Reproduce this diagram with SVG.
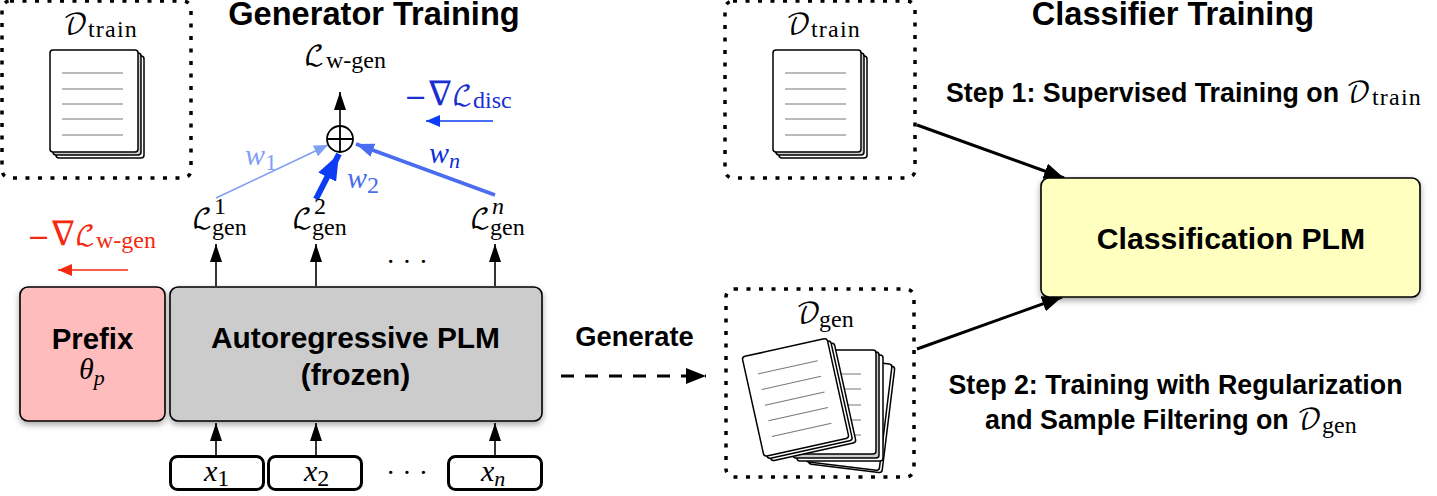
<svg xmlns="http://www.w3.org/2000/svg" width="1437" height="496" viewBox="0 0 1437 496">
<style>
.t{font-family:"Liberation Sans",Arial,sans-serif;font-weight:bold;fill:#000}
.m{font-family:"DejaVu Math TeX Gyre","Liberation Serif",serif;font-size:27px}
.s{font-family:"Liberation Serif",serif;font-size:24px}
.i{font-family:"Liberation Serif",serif;font-style:italic;font-size:30px}
.dash{fill:none;stroke:#000;stroke-width:3.5;stroke-dasharray:4 8.5}
.box{stroke:#000;stroke-width:1.6;filter:url(#sh)}
.inp{fill:#fff;stroke:#000;stroke-width:3}
.pg{fill:#fff;stroke:#000;stroke-width:1.5}
.pgg{fill:#ccc;stroke:#000;stroke-width:1.5}
.ln{stroke:#777;stroke-width:1}
.a{fill:none;stroke:#000;stroke-width:1.6;marker-end:url(#ak)}
.c{fill:none;stroke:#000;stroke-width:3;marker-end:url(#ak2)}
</style>
<defs>
<filter id="sh" x="-10%" y="-10%" width="120%" height="125%"><feDropShadow dx="0" dy="3" stdDeviation="3" flood-color="#000" flood-opacity="0.35"/></filter>
<marker id="ak" markerUnits="userSpaceOnUse" viewBox="0 0 12 18" markerWidth="12" markerHeight="18" refX="18" refY="9" orient="auto" overflow="visible"><path d="M0 3L18 9L0 15z" fill="#000"/></marker>
<marker id="ak2" markerUnits="userSpaceOnUse" viewBox="0 0 20 16" markerWidth="20" markerHeight="16" refX="20" refY="8" orient="auto"><path d="M0 0L20 8L0 16z" fill="#000"/></marker>
<marker id="ar" markerUnits="userSpaceOnUse" viewBox="0 0 14 12" markerWidth="14" markerHeight="12" refX="14" refY="6" orient="auto"><path d="M0 0L14 6L0 12z" fill="#f5290f"/></marker>
<marker id="ab" markerUnits="userSpaceOnUse" viewBox="0 0 14 12" markerWidth="14" markerHeight="12" refX="14" refY="6" orient="auto"><path d="M0 0L14 6L0 12z" fill="#0c3df5"/></marker>
<marker id="al" markerUnits="userSpaceOnUse" viewBox="0 0 14 12" markerWidth="14" markerHeight="12" refX="14" refY="6" orient="auto"><path d="M0 0L14 6L0 12z" fill="#7f9ff5"/></marker>
<marker id="am" markerUnits="userSpaceOnUse" viewBox="0 0 26 20" markerWidth="26" markerHeight="20" refX="26" refY="10" orient="auto"><path d="M0 0L26 10L0 20z" fill="#0c3df5"/></marker>
<marker id="an" markerUnits="userSpaceOnUse" viewBox="0 0 18 14" markerWidth="18" markerHeight="14" refX="18" refY="7" orient="auto"><path d="M0 0L18 7L0 14z" fill="#4a6cf0"/></marker>
<g id="stack">
<rect class="pg" x="6" y="6" width="88" height="102" rx="3"/>
<rect class="pgg" x="3" y="3" width="88" height="102" rx="3"/>
<rect class="pg" x="0" y="0" width="88" height="102" rx="3"/>
<path class="ln" d="M12 23H73M12 39H73M12 54H73M12 69H73M12 85H73"/>
</g>
</defs>
<g id="connectors">
<path class="a" d="M340 127V92"/>
<path class="a" d="M216 286V244"/><path class="a" d="M316 286V244"/><path class="a" d="M495 286V244"/>
<path class="a" d="M216 456V423"/><path class="a" d="M316 456V423"/><path class="a" d="M495 456V423"/>
<path d="M216 198L328 145" fill="none" stroke="#7f9ff5" stroke-width="1.6" marker-end="url(#al)"/>
<path d="M316 199L339 154" fill="none" stroke="#0c3df5" stroke-width="6" marker-end="url(#am)"/>
<path d="M495 195L356 144" fill="none" stroke="#4a6cf0" stroke-width="3.500" marker-end="url(#an)"/>
<path d="M128 270H58" fill="none" stroke="#f5290f" stroke-width="1.6" marker-end="url(#ar)"/>
<path d="M493 121H426" fill="none" stroke="#0c3df5" stroke-width="1.6" marker-end="url(#ab)"/>
<path d="M561 376H706" fill="none" stroke="#000" stroke-width="3" stroke-dasharray="13 11" marker-end="url(#ak2)"/>
<path class="c" d="M917 125L1064 178"/><path class="c" d="M917 349L1062 297"/>
</g>
<g id="title-generator"><text class="t" x="374" y="25" font-size="32.600" text-anchor="middle">Generator Training</text></g>
<g id="title-classifier"><text class="t" x="1173" y="25" font-size="32.600" text-anchor="middle">Classifier Training</text></g>
<g id="data-train-1">
<rect class="dash" x="2" y="1" width="189" height="177" rx="8"/>
<text x="63" y="34" class="m">𝒟<tspan class="s" x="88" dy="3" letter-spacing="1.200">train</tspan></text>
<use href="#stack" x="50" y="50"/>
</g>
<g id="data-train-2">
<rect class="dash" x="725" y="1" width="190" height="177" rx="8"/>
<text x="786" y="34" class="m">𝒟<tspan class="s" x="811" dy="3" letter-spacing="1.200">train</tspan></text>
<use href="#stack" x="773" y="50"/>
</g>
<g id="data-gen">
<rect class="dash" x="726" y="289" width="188" height="188" rx="8"/>
<text x="796" y="323" class="m">𝒟<tspan class="s" x="819" dy="4">gen</tspan></text>
<g transform="translate(816 353) rotate(7)">
<rect class="pg" x="6" y="4" width="74" height="107" rx="3"/>
<rect class="pg" x="3" y="2" width="74" height="107" rx="3"/>
</g>
<rect class="pg" x="797" y="355" width="86" height="106" rx="3"/>
<rect class="pgg" x="793" y="352" width="86" height="106" rx="3"/>
<rect class="pg" x="790" y="350" width="86" height="104" rx="3"/>
<path class="ln" d="M838 374H861M838 389H861M838 405H861M838 420H861M838 435H861"/>
<g transform="translate(742 357) rotate(-12.5)">
<rect class="pg" x="6" y="6" width="87" height="102" rx="3"/>
<rect class="pg" x="3" y="3" width="87" height="102" rx="3"/>
<rect class="pg" x="0" y="0" width="87" height="102" rx="3"/>
<path class="ln" d="M12 20H73M12 36H73M12 52H73M12 68H73M12 84H73"/>
</g>
</g>
<g id="prefix">
<rect class="box" x="20" y="287" width="145" height="134" rx="8" fill="#ffbcbc"/>
<text class="t" x="92.500" y="349" font-size="29.400" text-anchor="middle">Prefix</text>
<text x="79" y="379" class="i">θ<tspan font-size="22" dy="6">p</tspan></text>
</g>
<g id="autoregressive">
<rect class="box" x="170" y="287" width="372" height="134" rx="8" fill="#ccc"/>
<text class="t" x="355.500" y="348" font-size="29.900" text-anchor="middle">Autoregressive PLM</text>
<text class="t" x="355.500" y="385" font-size="29.900" text-anchor="middle">(frozen)</text>
</g>
<g id="classification">
<rect class="box" x="1041" y="178" width="379" height="119" rx="8" fill="#ffffbf"/>
<text class="t" x="1231" y="249" font-size="30.200" text-anchor="middle">Classification PLM</text>
</g>
<g id="x1"><rect class="inp" x="170.500" y="456.500" width="93" height="33" rx="7"/><text x="204" y="481" class="i">x<tspan class="s" dy="5" font-style="normal">1</tspan></text></g>
<g id="x2"><rect class="inp" x="268.500" y="456.500" width="93" height="33" rx="7"/><text x="304" y="481" class="i">x<tspan class="s" dy="5" font-style="normal">2</tspan></text></g>
<g id="xn"><rect class="inp" x="448.500" y="456.500" width="93" height="33" rx="7"/><text x="481" y="481" class="i">x<tspan font-size="22" dy="5">n</tspan></text></g>
<g id="loss-w-gen"><text x="304" y="65" class="m">ℒ<tspan class="s" x="326" dy="3">w-gen</tspan></text></g>
<g id="sum"><circle cx="340" cy="139" r="13" fill="#fff" stroke="#000" stroke-width="1.8"/><path d="M327 139H353M340 126V152" stroke="#000" stroke-width="1.8"/></g>
<g id="loss-1"><text x="192" y="228" class="m">ℒ<tspan class="s" x="214" dy="-14">1</tspan><tspan class="s" x="212" dy="21" font-size="23">gen</tspan></text></g>
<g id="loss-2"><text x="292" y="228" class="m">ℒ<tspan class="s" x="314" dy="-14">2</tspan><tspan class="s" x="312" dy="21" font-size="23">gen</tspan></text></g>
<g id="loss-n"><text x="470" y="228" class="m">ℒ<tspan class="s" x="492" dy="-14" font-style="italic">n</tspan><tspan class="s" x="490" dy="21" font-size="23">gen</tspan></text></g>
<g id="dots"><text x="407" y="271" font-family="Liberation Serif,serif" font-size="28" text-anchor="middle">· · ·</text><text x="407" y="482" font-family="Liberation Serif,serif" font-size="28" text-anchor="middle">· · ·</text></g>
<g id="weights">
<text x="245" y="165" class="i" fill="#7f9ff5">w<tspan class="s" dy="5" font-style="normal">1</tspan></text>
<text x="347" y="188" class="i" fill="#4a6cf0">w<tspan class="s" dy="5" font-style="normal">2</tspan></text>
<text x="429" y="163" class="i" fill="#0c2fd8">w<tspan font-size="22" dy="5">n</tspan></text>
</g>
<g id="grad-wgen"><text y="245" class="m" fill="#f5290f"><tspan x="28">−</tspan><tspan x="48" font-size="34">∇</tspan><tspan x="75">ℒ</tspan><tspan class="s" x="96" dy="3">w-gen</tspan></text></g>
<g id="grad-disc"><text y="105" class="m" fill="#1a2fd0"><tspan x="405">−</tspan><tspan x="425" font-size="34">∇</tspan><tspan x="452">ℒ</tspan><tspan class="s" x="473" dy="3">disc</tspan></text></g>
<g id="generate"><text class="t" x="634.500" y="346" font-size="27.300" text-anchor="middle">Generate</text></g>
<g id="step1"><text class="t" x="946" y="102" font-size="26.800">Step 1: Supervised Training on <tspan class="m" font-weight="normal" x="1346">𝒟</tspan><tspan class="s" font-weight="normal" x="1372" dy="3" letter-spacing="1.200">train</tspan></text></g>
<g id="step2">
<text class="t" x="1175.500" y="394" font-size="26.800" text-anchor="middle">Step 2: Training with Regularization</text>
<text class="t" x="985" y="429" font-size="26.800">and Sample Filtering on <tspan class="m" font-weight="normal" x="1297">𝒟</tspan><tspan class="s" font-weight="normal" x="1322" dy="4">gen</tspan></text>
</g>
</svg>
